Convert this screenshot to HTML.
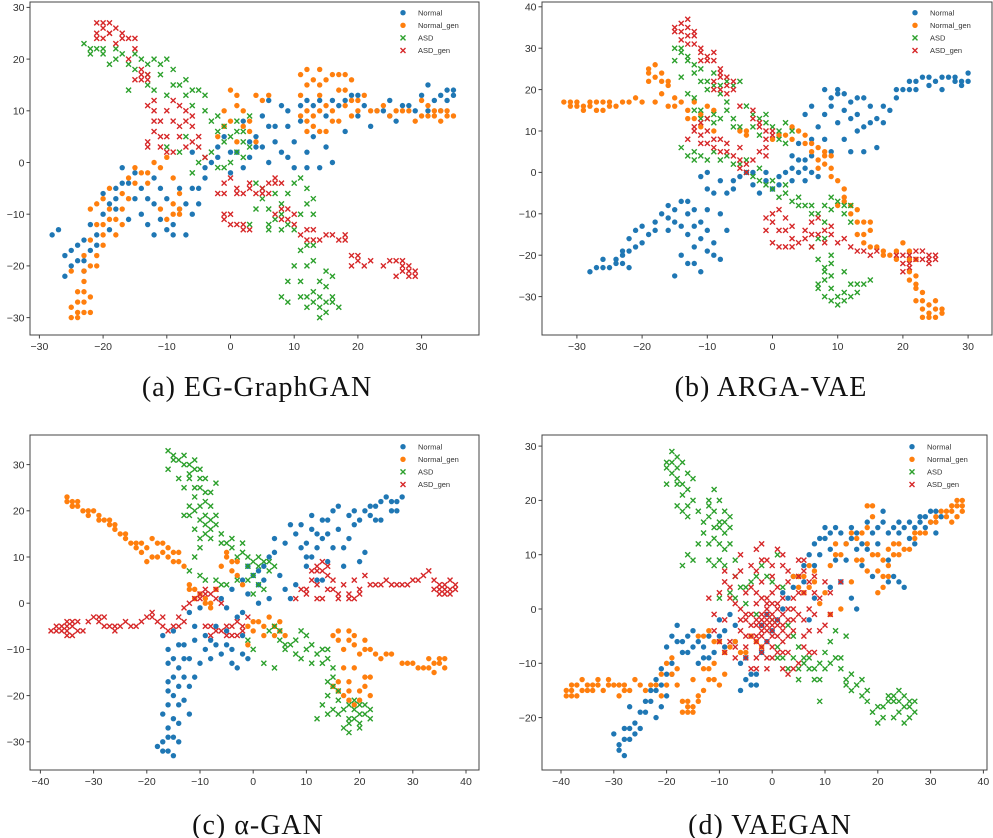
<!DOCTYPE html>
<html><head><meta charset="utf-8">
<style>
html,body{margin:0;padding:0;background:#fff;}
svg{display:block;}
.tick{font-family:"Liberation Sans",sans-serif;font-size:10.5px;fill:#333;}
.leg{font-family:"Liberation Sans",sans-serif;font-size:7.5px;fill:#333;}
.cap{font-family:"Liberation Serif",serif;font-size:28px;fill:#111;letter-spacing:1px;}
</style></head>
<body>
<svg id="fig" width="993" height="838" viewBox="0 0 993 838" xmlns="http://www.w3.org/2000/svg"></svg>
<script>
// ---------- Data (t-SNE embeddings) ----------
const seriesNames = ["Normal","Normal_gen","ASD","ASD_gen"];
const seriesColors = ["#1f77b4","#ff7f0e","#2ca02c","#d62728"];
const seriesMarkers = ["dot","dot","x","x"];

// Panel (a) EG-GraphGAN
const aNormal = [[-28,-14],[-27,-13],[-26,-18],[-26,-22],[-25,-20],[-24,-16],[-23,-15],[-22,-17],[-22,-12],[-21,-14],[-20,-10],[-20,-6],[-19,-8],[-18,-5],[-17,-1],[-16,-4],[-15,-7],[-14,-10],[-13,-12],[-12,-8],[-11,-5],[-10,-13],[-9,-14],[-8,-9],[-7,-14],[-6,-10],[-5,-5],[-4,-3],[-3,0],[-2,3],[-1,5],[0,-2],[1,2],[2,-1],[3,1],[4,5],[5,9],[6,12],[7,4],[8,11],[9,1],[10,4],[11,8],[12,-1],[12,12],[13,5],[14,12],[15,9],[16,0],[17,11],[18,6],[19,13],[20,9],[22,7],[24,10],[26,8],[27,11],[29,10],[30,13],[31,15],[32,12],[33,10],[34,12],[35,14],[35,13],[15,3],[10,-1],[8,2],[6,7],[4,3],[-6,2],[-8,-5],[-18,-9],[-16,-11],[-12,-3],[-23,-19],[2,8],[9,7],[21,11],[25,12],
[-25,-17],[-24,-19],[-23,-21],[-21,-16],[-19,-13],[-18,-7],[-17,-4],[-15,-2],[-14,-5],[-13,-7],[-12,-14],[-11,-11],[-10,-7],[-9,-12],[-7,-8],[-6,-5],[-5,-8],[-4,-1],[-2,1],[0,2],[3,4],[5,3],[7,7],[9,10],[11,11],[13,11],[16,12],[18,12],[20,13],[23,10],[25,9],[28,11],[31,10],[33,13],[34,14],[12,2],[14,-1],[6,0]];
const aNormalGen = [[-24,-30],[-25,-28],[-23,-27],[-22,-29],[-24,-25],[-23,-23],[-25,-21],[-22,-20],[-21,-18],[-22,-15],[-21,-12],[-22,-9],[-20,-7],[-19,-11],[-18,-14],[-17,-9],[-19,-5],[-16,-3],[-17,-12],[-15,-1],[-13,-2],[-12,0],[-10,1],[-9,-3],[-8,-6],[-9,-10],[-8,-9],[-11,-9],[-13,-4],[-20,-16],[-23,-18],[-21,-8],[-24,-29],[-23,-25],[0,14],[1,13],[-1,10],[0,8],[2,7],[3,6],[-2,5],[1,4],[4,4],[2,10],[4,13],[5,12],[6,13],[11,17],[12,18],[14,18],[16,17],[18,17],[19,16],[12,15],[14,13],[15,11],[12,10],[11,9],[13,7],[15,6],[17,8],[18,11],[20,10],[21,13],[22,10],[24,11],[26,10],[28,10],[30,12],[31,9],[32,10],[33,8],[34,9],[35,9],[29,8],[17,14],[13,9],[16,10],[14,15],[19,12],
[-25,-30],[-23,-29],[-24,-27],[-22,-26],[-23,-21],[-21,-20],[-20,-14],[-19,-9],[-18,-11],[-20,-12],[-17,-6],[-16,-7],[-15,-4],[-14,-2],[-11,-1],[-9,-8],[-8,-10],[-10,-11],[1,11],[3,8],[-1,7],[11,13],[13,16],[15,16],[17,17],[18,14],[20,12],[12,8],[14,10],[16,8],[19,9],[23,10],[25,9],[27,10],[31,11],[32,9],[33,10],[34,10],[30,9],[12,6],[14,6]];
const aASD = [[-23,23],[-22,22],[-21,22],[-20,21],[-19,19],[-18,22],[-17,21],[-16,19],[-15,18],[-14,20],[-13,19],[-12,20],[-10,20],[-9,18],[-11,17],[-13,15],[-12,14],[-10,13],[-8,15],[-7,13],[-5,14],[-6,11],[-4,10],[-3,8],[-1,7],[-2,6],[0,5],[1,8],[2,6],[3,9],[2,4],[1,2],[0,0],[-2,-1],[-4,1],[-6,-2],[-8,2],[-10,3],[-7,5],[-16,14],[4,-4],[5,-7],[6,-9],[7,-11],[8,-13],[8,-8],[9,-6],[10,-4],[11,-3],[12,-5],[13,-7],[11,-10],[10,-13],[11,-17],[10,-20],[9,-23],[8,-26],[9,-27],[11,-26],[12,-28],[13,-25],[14,-26],[15,-24],[16,-26],[15,-29],[14,-30],[17,-28],[16,-22],[13,-19],[12,-16],[6,-13],[3,-12],
[-22,21],[-20,22],[-18,20],[-15,21],[-13,17],[-11,19],[-9,15],[-7,16],[-6,14],[-4,13],[-2,9],[-1,4],[1,6],[3,3],[2,1],[-1,-1],[-3,2],[-5,0],[5,-5],[7,-6],[8,-10],[9,-12],[12,-8],[13,-10],[12,-20],[11,-23],[13,-27],[14,-28],[15,-27],[16,-27],[12,-26],[14,-23],[15,-21],[13,-16],[4,-9],[6,-12]];
const aASDGen = [[-20,26],[-19,27],[-21,25],[-20,24],[-18,26],[-17,25],[-16,24],[-18,23],[-15,22],[-16,20],[-14,17],[-15,16],[-13,16],[-14,18],[-12,10],[-11,8],[-12,6],[-13,4],[-11,3],[-10,5],[-9,12],[-10,10],[-8,11],[-7,8],[-6,7],[-8,5],[-6,4],[-5,3],[-4,1],[-9,2],[-21,27],[-19,25],[-2,-6],[-1,-4],[0,-3],[1,-5],[2,-6],[3,-4],[4,-6],[5,-5],[6,-4],[7,-3],[8,-4],[0,-10],[-1,-11],[1,-12],[2,-13],[3,-13],[7,-10],[8,-11],[9,-9],[10,-12],[11,-14],[12,-15],[13,-13],[14,-15],[16,-14],[17,-15],[18,-15],[19,-18],[20,-19],[21,-20],[22,-19],[24,-20],[26,-19],[27,-20],[28,-21],[29,-22],[28,-20],[27,-21],[26,-22],
[-20,27],[-19,25],[-21,24],[-17,24],[-15,24],[-14,16],[-13,17],[-12,12],[-13,11],[-12,8],[-11,5],[-13,3],[-10,2],[-9,8],[-8,7],[-7,10],[-6,9],[-5,5],[-7,3],[-1,-6],[1,-6],[3,-5],[5,-6],[6,-6],[7,-4],[-1,-10],[0,-12],[2,-12],[8,-9],[9,-11],[10,-10],[12,-13],[13,-15],[15,-14],[18,-14],[19,-20],[20,-18],[25,-19],[27,-19],[28,-22],[29,-21]];

// Panel (b) ARGA-VAE
const bNormal = [[-28,-24],[-27,-23],[-26,-21],[-25,-23],[-24,-21],[-23,-19],[-22,-23],[-23,-22],[-22,-16],[-21,-14],[-20,-17],[-19,-15],[-18,-12],[-17,-10],[-16,-8],[-15,-12],[-14,-7],[-13,-10],[-12,-13],[-11,-16],[-10,-9],[-12,-18],[-14,-20],[-15,-25],[-13,-22],[-11,-24],[-9,-20],[-8,-21],[-7,-14],[-8,-10],[-9,-5],[-10,-4],[-11,-1],[-10,0],[-8,-2],[-6,-4],[-5,-1],[-4,0],[-3,-3],[-2,-5],[-1,-2],[0,-4],[1,-1],[2,0],[3,-2],[4,0],[5,1],[6,0],[7,-1],[3,4],[5,3],[4,7],[6,8],[7,11],[5,14],[6,16],[8,20],[9,18],[10,19],[11,15],[12,17],[13,14],[14,18],[15,12],[13,10],[11,8],[12,5],[14,5],[16,6],[16,13],[18,15],[19,18],[20,20],[21,22],[22,20],[23,23],[24,21],[25,22],[26,20],[27,23],[28,22],[29,21],[30,24],[30,22],[10,12],[8,8],[9,5],[4,3],[-16,-14],[-13,-15],
[-26,-23],[-24,-22],[-23,-20],[-22,-19],[-21,-18],[-20,-13],[-18,-14],[-16,-11],[-15,-9],[-14,-13],[-13,-7],[-12,-9],[-11,-12],[-10,-14],[-12,-22],[-10,-19],[-9,-17],[-7,-5],[-6,-2],[-3,0],[-1,0],[1,-3],[3,1],[5,-2],[6,4],[8,14],[9,16],[10,20],[11,19],[12,13],[13,18],[14,11],[15,16],[17,16],[19,20],[21,20],[22,22],[24,23],[26,23],[28,23],[29,22],[17,12]];
const bNormalGen = [[-32,17],[-31,16],[-30,17],[-29,16],[-28,16],[-27,17],[-26,15],[-25,17],[-24,16],[-22,17],[-21,18],[-20,17],[-19,22],[-19,25],[-18,26],[-17,24],[-16,22],[-17,19],[-18,17],[-16,16],[-15,18],[-14,17],[-13,15],[-12,13],[-11,14],[-10,16],[-12,17],[-9,15],[-5,10],[-4,9],[0,8],[2,9],[3,11],[4,10],[5,9],[6,7],[7,6],[8,5],[9,4],[8,2],[7,1],[9,-1],[10,-2],[11,-4],[11,-7],[12,-8],[13,-9],[10,-8],[14,-12],[15,-14],[13,-15],[14,-17],[16,-18],[17,-20],[18,-20],[19,-19],[20,-17],[21,-19],[22,-21],[21,-24],[21,-26],[22,-28],[23,-29],[22,-31],[23,-33],[24,-34],[25,-33],[24,-35],[26,-34],[25,-31],[-30,16],[-27,15],
[-31,17],[-29,15],[-28,17],[-26,17],[-25,16],[-23,17],[-19,24],[-18,23],[-17,22],[-16,21],[-15,16],[-13,13],[-11,11],[-9,10],[-4,10],[1,9],[3,8],[5,7],[6,5],[8,4],[7,3],[9,1],[11,-6],[12,-10],[13,-12],[15,-12],[14,-15],[15,-18],[17,-19],[19,-21],[21,-21],[22,-25],[22,-27],[23,-31],[24,-32],[23,-35],[25,-35],[26,-33]];
const bASD = [[-15,30],[-14,29],[-15,27],[-13,27],[-12,24],[-11,25],[-10,22],[-9,24],[-8,21],[-7,22],[-6,21],[-5,22],[-14,23],[-13,19],[-12,18],[-11,15],[-10,13],[-9,12],[-7,15],[-6,13],[-5,11],[-4,16],[-3,14],[-2,13],[-1,14],[0,11],[1,8],[2,7],[3,10],[-14,6],[-13,4],[-12,3],[-10,3],[-9,5],[-7,4],[-5,2],[-4,0],[-3,-1],[-2,1],[-1,-3],[0,-4],[1,-6],[2,-5],[3,-7],[4,-6],[5,-8],[6,-10],[8,-8],[9,-6],[10,-7],[11,-10],[12,-8],[8,-12],[7,-16],[6,-18],[7,-21],[8,-23],[9,-22],[8,-26],[7,-28],[8,-30],[9,-31],[10,-32],[11,-29],[12,-30],[13,-27],[14,-27],[15,-26],[11,-24],
[-14,30],[-13,28],[-12,26],[-11,22],[-10,20],[-9,21],[-8,19],[-7,17],[-12,15],[-11,13],[-9,14],[-8,13],[-6,11],[-3,11],[-2,9],[-1,12],[1,10],[2,12],[-12,5],[-11,4],[-8,3],[-6,2],[-4,3],[-2,-2],[0,-2],[2,-3],[4,-8],[6,-8],[7,-10],[9,-9],[11,-8],[12,-12],[8,-16],[9,-20],[8,-24],[7,-27],[9,-28],[10,-30],[11,-31],[12,-27],[13,-29],[9,-25]];
const bASDGen = [[-14,36],[-13,35],[-15,34],[-13,33],[-14,32],[-12,34],[-12,31],[-11,29],[-10,28],[-11,27],[-9,27],[-8,25],[-8,23],[-7,21],[-6,20],[-7,19],[-9,20],[-10,13],[-11,12],[-12,10],[-13,8],[-11,7],[-9,6],[-8,5],[-7,7],[-6,4],[-5,3],[-4,2],[-4,0],[-3,13],[-2,12],[-1,10],[0,9],[-1,8],[-2,5],[-1,4],[-3,15],[-5,16],[-1,-11],[0,-10],[1,-9],[2,-11],[3,-13],[1,-14],[0,-17],[1,-18],[3,-18],[4,-17],[5,-14],[6,-12],[7,-11],[7,-15],[8,-14],[9,-15],[10,-17],[12,-18],[14,-19],[16,-19],[19,-20],[20,-22],[21,-20],[22,-21],[23,-19],[24,-20],[25,-21],[24,-22],[21,-23],[20,-24],
[-15,35],[-14,34],[-13,37],[-12,33],[-13,31],[-11,30],[-10,27],[-9,29],[-8,24],[-7,23],[-6,22],[-8,20],[-9,22],[-12,11],[-11,9],[-10,10],[-9,8],[-10,7],[-8,8],[-7,5],[-5,6],[-5,1],[-3,3],[-2,11],[0,10],[-1,6],[0,-12],[-1,-14],[2,-14],[3,-16],[2,-18],[5,-16],[6,-15],[6,-18],[8,-17],[9,-13],[11,-16],[13,-19],[15,-20],[20,-20],[21,-22],[22,-19],[23,-21],[24,-21],[25,-20]];

// Panel (c) alpha-GAN
const cNormal = [[-18,-31],[-17,-30],[-16,-32],[-15,-33],[-15,-29],[-16,-27],[-17,-24],[-16,-22],[-15,-20],[-14,-18],[-13,-21],[-12,-24],[-14,-14],[-15,-12],[-16,-10],[-17,-7],[-15,-6],[-13,-9],[-12,-12],[-11,-16],[-10,-13],[-9,-10],[-8,-8],[-11,-5],[-12,-2],[-10,-1],[-7,-5],[-6,-11],[-5,-9],[-4,-13],[-3,-14],[-2,-11],[-1,-12],[-2,-7],[-3,-3],[-5,-1],[-6,1],[-4,3],[-2,5],[-1,8],[0,6],[1,4],[2,8],[3,10],[4,14],[5,6],[6,3],[7,1],[8,4],[8,15],[9,17],[10,13],[11,16],[12,12],[13,18],[14,15],[15,20],[16,21],[17,12],[18,19],[19,17],[20,9],[21,11],[22,19],[23,21],[24,18],[25,23],[26,20],[27,22],[28,23],[12,5],[10,8],[14,9],[17,8],[3,1],[1,0],[-16,-17],[-14,-26],
[-17,-32],[-16,-29],[-14,-30],[-15,-25],[-14,-22],[-16,-19],[-15,-16],[-13,-16],[-12,-18],[-13,-12],[-14,-9],[-16,-13],[-11,-8],[-9,-7],[-8,-12],[-7,-9],[-5,-6],[-4,-10],[-2,-2],[-1,2],[1,7],[2,5],[4,11],[6,13],[7,17],[9,12],[10,10],[11,19],[12,15],[13,14],[14,18],[15,12],[16,16],[18,14],[19,20],[20,18],[21,20],[22,21],[23,18],[24,22],[26,22],[27,20],[11,10],[13,5]];
const cNormalGen = [[-35,23],[-34,22],[-33,21],[-32,20],[-30,20],[-29,19],[-28,18],[-27,17],[-26,16],[-25,15],[-24,14],[-23,13],[-22,12],[-21,11],[-20,9],[-19,14],[-18,13],[-17,11],[-16,12],[-15,9],[-14,11],[-13,8],[-12,4],[-11,3],[-10,2],[-9,1],[-8,0],[-7,3],[-6,8],[-5,10],[-4,9],[-3,6],[-2,4],[-1,-5],[0,-6],[1,-4],[2,-7],[3,-3],[4,-5],[5,-4],[6,-7],[-1,-9],[15,-7],[16,-8],[17,-10],[18,-6],[19,-9],[20,-11],[21,-8],[22,-10],[24,-12],[26,-11],[28,-13],[30,-13],[32,-14],[33,-12],[35,-13],[36,-12],[34,-15],[15,-18],[16,-17],[17,-20],[18,-19],[19,-22],[20,-21],[21,-18],[22,-16],[19,-14],[17,-14],[-34,21],[-31,19],
[-35,22],[-34,21],[-33,22],[-31,20],[-29,18],[-27,18],[-26,17],[-24,15],[-22,13],[-21,13],[-20,12],[-19,10],[-18,10],[-17,13],[-16,10],[-15,11],[-14,9],[-12,3],[-11,1],[-9,0],[-8,-1],[-5,11],[-4,7],[-3,9],[0,-4],[2,-5],[4,-7],[5,-6],[16,-6],[18,-8],[19,-7],[21,-10],[23,-11],[25,-11],[29,-13],[31,-14],[33,-14],[34,-13],[36,-14],[35,-12],[16,-19],[18,-21],[20,-19],[21,-16],[22,-20],[18,-17]];
const cASD = [[-16,33],[-15,31],[-13,32],[-12,30],[-11,29],[-10,29],[-16,29],[-14,27],[-12,27],[-11,25],[-10,25],[-9,22],[-8,24],[-7,26],[-12,21],[-13,19],[-11,20],[-9,19],[-8,18],[-7,19],[-11,16],[-10,14],[-9,15],[-8,14],[-7,17],[-6,15],[-5,13],[-4,12],[-3,10],[-2,11],[-11,10],[-12,7],[-10,6],[-7,5],[-6,4],[-1,8],[0,6],[1,10],[2,9],[3,7],[4,8],[2,3],[0,2],[3,-6],[4,-5],[5,-8],[6,-10],[7,-9],[8,-11],[9,-6],[10,-10],[11,-13],[12,-11],[13,-13],[14,-10],[15,-14],[15,-16],[16,-19],[14,-20],[13,-22],[12,-25],[14,-24],[16,-24],[17,-27],[18,-25],[19,-23],[20,-22],[21,-24],[22,-25],[20,-27],[18,-28],[0,-10],[2,-13],[4,-14],[-1,-8],
[-15,32],[-14,31],[-13,30],[-11,31],[-12,28],[-10,27],[-9,27],[-13,25],[-11,23],[-9,24],[-10,21],[-8,21],[-12,19],[-10,18],[-9,17],[-10,12],[-8,16],[-6,13],[-4,14],[-2,13],[-1,10],[0,9],[1,8],[3,9],[-9,5],[-5,4],[-3,5],[-1,5],[1,4],[5,-6],[6,-9],[8,-8],[9,-12],[10,-7],[11,-9],[13,-10],[14,-12],[15,-18],[14,-17],[15,-23],[16,-21],[17,-23],[18,-22],[19,-21],[19,-25],[20,-24],[21,-22],[20,-26],[22,-23],[18,-26]];
const cASDGen = [[-38,-6],[-37,-5],[-36,-6],[-35,-7],[-34,-5],[-33,-4],[-34,-7],[-32,-6],[-30,-3],[-29,-4],[-28,-3],[-27,-5],[-26,-6],[-25,-5],[-24,-4],[-22,-5],[-20,-3],[-19,-2],[-18,-4],[-17,-3],[-16,-6],[-14,-5],[-13,-4],[-13,-1],[-11,1],[-10,2],[-9,3],[-8,2],[-7,1],[-6,0],[-9,-5],[-8,-7],[-7,-6],[-5,-5],[-4,-7],[-3,-4],[-2,-6],[-1,-3],[8,1],[9,3],[10,2],[11,7],[12,8],[13,9],[14,8],[12,4],[13,1],[14,3],[15,5],[16,2],[17,4],[18,2],[19,1],[20,3],[21,6],[22,4],[24,4],[26,4],[28,4],[30,5],[32,6],[33,7],[34,5],[35,4],[36,3],[37,2],[38,4],[37,5],[35,2],[19,5],
[-37,-6],[-36,-5],[-35,-5],[-35,-6],[-34,-4],[-33,-6],[-35,-4],[-31,-4],[-29,-3],[-28,-5],[-26,-5],[-23,-5],[-21,-4],[-19,-3],[-17,-5],[-15,-5],[-14,-3],[-12,0],[-10,1],[-9,2],[-7,3],[-8,-5],[-6,-6],[-5,-7],[-4,-5],[-3,-7],[-2,-5],[10,3],[11,5],[12,7],[13,7],[14,6],[12,1],[15,3],[16,1],[18,1],[20,2],[23,4],[25,5],[27,4],[29,4],[31,5],[34,3],[35,3],[36,4],[36,2],[37,3],[38,3]];

// Panel (d) VAEGAN
const dNormal = [[-28,-27],[-29,-25],[-30,-23],[-28,-22],[-27,-24],[-26,-21],[-25,-19],[-27,-18],[-24,-17],[-23,-15],[-22,-13],[-21,-18],[-20,-16],[-21,-11],[-20,-7],[-19,-5],[-18,-3],[-17,-6],[-16,-8],[-15,-4],[-14,-10],[-13,-7],[-12,-5],[-11,-8],[-10,-2],[-9,-4],[-8,-1],[-7,-6],[-6,-10],[-5,-13],[-4,-14],[-3,-12],[-6,-15],[-2,-8],[-1,-6],[0,-4],[1,-2],[2,0],[3,2],[4,4],[5,6],[6,8],[7,10],[8,12],[9,13],[10,15],[11,11],[12,9],[13,14],[14,12],[15,15],[16,11],[17,8],[18,16],[19,14],[20,12],[21,18],[22,9],[23,6],[24,14],[25,4],[26,16],[27,12],[28,17],[29,15],[30,18],[31,14],[32,17],[16,0],[15,2],[13,5],[11,4],[8,2],[7,-2],[-22,-20],[-19,-12],
[-29,-26],[-28,-24],[-27,-22],[-26,-23],[-25,-22],[-24,-19],[-23,-17],[-22,-15],[-21,-14],[-20,-12],[-19,-10],[-18,-6],[-17,-8],[-16,-5],[-15,-7],[-14,-6],[-13,-9],[-12,-9],[-10,-5],[-9,-7],[-7,-3],[-5,-9],[-4,-12],[-3,-14],[-2,-3],[-1,-1],[2,3],[4,6],[6,5],[8,8],[9,10],[10,13],[11,14],[12,15],[14,9],[15,13],[16,14],[17,12],[18,11],[20,15],[21,16],[22,14],[23,15],[24,16],[25,15],[26,13],[27,15],[28,16],[29,17],[30,16],[31,18],[19,6],[22,5],[24,5]];
const dNormalGen = [[-39,-15],[-38,-14],[-37,-16],[-36,-13],[-35,-15],[-34,-14],[-33,-13],[-32,-15],[-31,-14],[-30,-14],[-29,-16],[-28,-14],[-27,-15],[-26,-13],[-24,-15],[-22,-14],[-21,-12],[-20,-10],[-19,-9],[-18,-14],[-17,-17],[-16,-19],[-15,-18],[-14,-16],[-13,-11],[-12,-13],[-11,-10],[-10,-14],[-9,-12],[-13,-5],[-12,-4],[-10,-6],[-8,-7],[-6,-8],[-4,-5],[-2,-7],[4,6],[5,4],[6,3],[7,8],[8,5],[9,1],[11,-1],[13,0],[11,8],[12,12],[13,10],[15,14],[16,13],[17,9],[18,15],[19,19],[19,10],[20,3],[21,6],[22,8],[23,12],[24,10],[26,11],[27,13],[28,14],[30,16],[31,17],[32,18],[33,17],[34,19],[35,20],[36,18],[36,20],[34,16],[15,5],[18,7],[-38,-16],[-16,-17],
[-39,-16],[-38,-15],[-37,-14],[-36,-15],[-35,-14],[-34,-15],[-33,-14],[-31,-13],[-29,-14],[-28,-15],[-25,-14],[-23,-14],[-21,-16],[-20,-14],[-19,-12],[-18,-11],[-17,-19],[-16,-18],[-15,-19],[-14,-17],[-15,-13],[-13,-15],[-12,-11],[-11,-13],[-14,-5],[-11,-6],[-9,-8],[-7,-6],[-5,-8],[-3,-6],[5,6],[6,6],[7,4],[8,7],[10,3],[12,10],[14,12],[16,9],[17,14],[18,19],[19,17],[18,12],[20,10],[21,9],[22,11],[23,10],[24,12],[25,11],[27,14],[29,14],[31,16],[33,18],[34,18],[35,19],[36,19],[35,17],[22,6],[21,4],[20,7]];
const dASD = [[-20,27],[-19,29],[-18,28],[-17,27],[-19,25],[-20,23],[-18,23],[-16,25],[-15,24],[-17,21],[-16,19],[-18,19],[-14,18],[-12,20],[-11,22],[-10,20],[-9,18],[-8,17],[-12,17],[-10,16],[-11,15],[-9,14],[-8,12],[-13,14],[-14,12],[-16,10],[-17,8],[-15,9],[-12,9],[-10,9],[-9,8],[-7,6],[-6,4],[-8,3],[-10,2],[-5,1],[-4,5],[-2,8],[-1,6],[1,10],[2,4],[-3,-1],[0,-2],[3,-3],[4,-5],[5,-7],[6,-9],[7,-11],[8,-13],[3,-11],[1,-9],[5,-13],[9,-10],[10,-8],[11,-6],[12,-9],[13,-11],[14,-13],[15,-12],[16,-14],[17,-16],[18,-15],[19,-19],[20,-21],[21,-18],[22,-16],[23,-17],[24,-15],[25,-16],[26,-18],[27,-19],[23,-20],[25,-21],[9,-17],[14,-5],[12,-4],
[-20,26],[-19,27],[-18,26],[-18,24],[-17,23],[-16,22],[-17,18],[-15,20],[-16,17],[-13,16],[-12,19],[-11,18],[-10,15],[-9,16],[-8,15],[-11,13],[-12,12],[-10,12],[-9,11],[-7,9],[-11,8],[-7,2],[-5,4],[-3,6],[0,5],[1,-7],[2,-9],[4,-9],[5,-11],[6,-10],[7,-9],[8,-11],[9,-13],[10,-11],[11,-10],[13,-9],[14,-14],[15,-15],[17,-13],[18,-17],[20,-18],[21,-20],[22,-17],[23,-16],[24,-17],[25,-18],[26,-17],[27,-17],[24,-19],[26,-20]];
const dASDGen = [[-2,-2],[-1,-3],[0,-1],[1,-2],[-3,-3],[-2,-4],[0,-4],[1,-5],[2,-3],[-1,0],[-4,-1],[3,0],[2,2],[-1,2],[1,4],[-3,3],[-5,-2],[-4,-5],[-2,-7],[0,-7],[2,-6],[4,-4],[5,-1],[4,2],[3,5],[0,6],[-2,5],[-5,3],[-6,0],[-6,-4],[-5,-7],[-3,-9],[0,-9],[3,-8],[6,-7],[7,-4],[7,0],[6,3],[5,6],[2,8],[-1,9],[-4,8],[-7,6],[-8,2],[-9,-2],[-8,-6],[-7,-9],[-4,-11],[-1,-11],[2,-11],[5,-10],[8,-8],[9,-4],[9,2],[8,6],[5,9],[1,11],[-3,11],[-6,10],[-9,7],[-10,3],[-11,-1],[-10,-6],[10,5],[11,-1],[-2,12],[-5,-1],[-1,-6],[1,1],[3,-2],[-3,1],[-1,-1],[0,-3],[2,-1],[-2,-1],[0,1],[13,5],[-3,-5],[1,-8],[4,-2],[-2,2],
[-1,-2],[0,-2],[-2,-3],[1,-3],[-1,-4],[0,-5],[-2,-5],[1,0],[-3,-2],[2,-4],[-1,1],[0,3],[-3,-6],[-2,-8],[2,-8],[3,-5],[4,0],[5,3],[6,-2],[6,-5],[-4,-3],[-5,-5],[-6,-2],[-7,1],[-7,-7],[-8,4],[-4,4],[-3,7],[0,8],[3,7],[6,7],[7,5],[8,-1],[7,-8],[4,-11],[-1,-9],[-5,-9],[-9,-8],[-9,5],[-6,7],[-2,9],[2,10],[6,9],[8,3],[10,-3],[-12,2],[-11,-4],[-3,-11],[3,-12],[11,3]];

// Axis tick values
const aXTicks = [-30,-20,-10,0,10,20,30], aYTicks = [-30,-20,-10,0,10,20,30];
const bXTicks = [-30,-20,-10,0,10,20,30], bYTicks = [-30,-20,-10,0,10,20,30,40];
const cXTicks = [-40,-30,-20,-10,0,10,20,30,40], cYTicks = [-30,-20,-10,0,10,20,30];
const dXTicks = [-40,-30,-20,-10,0,10,20,30,40], dYTicks = [-20,-10,0,10,20,30];
const captions = ["(a)  EG-GraphGAN","(b)  ARGA-VAE","(c)  α-GAN","(d)  VAEGAN"];

// ---------- Layout (pixels) ----------
const panels = [
  {key:"a", box:[30,2,479,335], x0:230.5, xs:6.37, y0:162.5, ys:5.17, xt:aXTicks, yt:aYTicks, series:[aNormal,aNormalGen,aASD,aASDGen], cap:[257,396], leg:[403,12.7]},
  {key:"b", box:[542,2,992,335], x0:772.5, xs:6.52, y0:172.4, ys:4.14, xt:bXTicks, yt:bYTicks, series:[bNormal,bNormalGen,bASD,bASDGen], cap:[771,396], leg:[915,12.7]},
  {key:"c", box:[30,435,479,770], x0:253.2, xs:5.32, y0:603.2, ys:4.62, xt:cXTicks, yt:cYTicks, series:[cNormal,cNormalGen,cASD,cASDGen], cap:[258,834], leg:[403,446.7]},
  {key:"d", box:[542,435,987,770], x0:772.2, xs:5.28, y0:609, ys:5.43, xt:dXTicks, yt:dYTicks, series:[dNormal,dNormalGen,dASD,dASDGen], cap:[770,834], leg:[912,446.7]}
];

const NS = "http://www.w3.org/2000/svg";
const svg = document.getElementById("fig");
function mk(tag, attrs, parent){const e=document.createElementNS(NS,tag);for(const k in attrs)e.setAttribute(k,attrs[k]);parent.appendChild(e);return e;}
function fmt(v){return v<0?"\u2212"+(-v):String(v);}
function drawMarker(g, kind, px, py, color){
  if(kind==="dot"){
    const c=mk("circle",{cx:px,cy:py,r:2.7,fill:color},g);
    
    
  } else {
    const s=2.5;
    const p=mk("path",{d:`M${px-s},${py-s}L${px+s},${py+s}M${px-s},${py+s}L${px+s},${py-s}`,stroke:color,"stroke-width":1.4,fill:"none"},g);
    
    
  }
}

panels.forEach((p,ci)=>{
  const g=mk("g",{},svg);
  
  
  const X=v=>p.x0+v*p.xs, Y=v=>p.y0-v*p.ys;
  const [L,T,R,B]=p.box;
  p.series.forEach((pts,si)=>{
    const sg=mk("g",{},g);
    
    
    pts.forEach(d=>drawMarker(sg,seriesMarkers[si],X(d[0]),Y(d[1]),seriesColors[si]));
  });
  const fr=mk("rect",{x:L,y:T,width:R-L,height:B-T,fill:"none",stroke:"#444","stroke-width":1},g);
  
  
  const xg=mk("g",{},g);
  
  
  p.xt.forEach(v=>{
    const x=X(v);
    mk("line",{x1:x,y1:B,x2:x,y2:B+3.5,stroke:"#444","stroke-width":1},xg);
    const t=mk("text",{x:x,y:B+15,"text-anchor":"middle",class:"tick"},xg);
    t.textContent=fmt(v);
    
    
  });
  const yg=mk("g",{},g);
  
  
  p.yt.forEach(v=>{
    const y=Y(v);
    mk("line",{x1:L,y1:y,x2:L-3.5,y2:y,stroke:"#444","stroke-width":1},yg);
    const t=mk("text",{x:L-5.5,y:y+3.8,"text-anchor":"end",class:"tick"},yg);
    t.textContent=fmt(v);
    
    
  });
  const lg=mk("g",{},g);
  
  
  seriesNames.forEach((n,i)=>{
    const ly=p.leg[1]+i*12.6;
    const eg=mk("g",{},lg);
    
    
    drawMarker(eg,seriesMarkers[i],p.leg[0],ly,seriesColors[i]);
    const t=mk("text",{x:p.leg[0]+15,y:ly+2.7,class:"leg"},eg);
    t.textContent=n;
  });
  const ct=mk("text",{x:p.cap[0],y:p.cap[1],"text-anchor":"middle",class:"cap"},g);
  ct.textContent=captions[ci];
  
  
});
</script>
</body></html>
